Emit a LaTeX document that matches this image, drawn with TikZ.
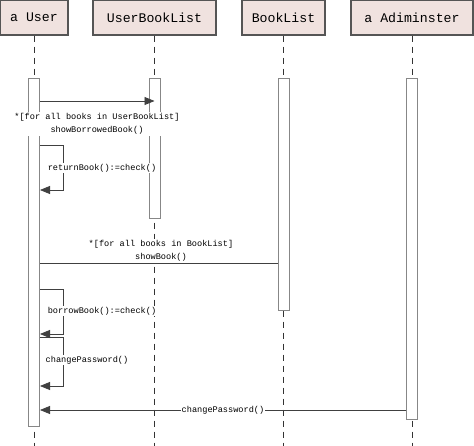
\documentclass[tikz,border=0pt]{standalone}
\usepackage{fontspec}
\setmonofont{Liberation Mono}
\usetikzlibrary{arrows.meta}
\definecolor{headfill}{RGB}{240,226,223}
\definecolor{headline}{RGB}{85,85,85}
\definecolor{actline}{RGB}{135,135,135}
\tikzset{
    head/.style={draw=headline, line width=1.2pt, fill=headfill, minimum height=35pt, inner sep=0pt, font=\ttfamily\fontsize{13.2}{14}\selectfont},
    life/.style={draw=black!80, line width=0.9pt, dash pattern=on 6pt off 5pt},
    act/.style={draw=actline, line width=1pt, fill=white, minimum width=11pt, inner sep=0pt},
    msg/.style={draw=black!75, line width=0.8pt, -{Triangle[length=10pt,width=8pt]}},
    plain/.style={draw=black!75, line width=0.8pt},
    lbl/.style={fill=white, inner sep=1pt, align=center, font=\ttfamily\fontsize{8.6}{13}\selectfont}
}
\begin{document}
\begin{tikzpicture}[x=1pt,y=-1pt]
        \useasboundingbox (0,0) rectangle (474,446);
        \coordinate (bottom) at (0,446);

        \node[head, minimum width=68pt] (user) at (34, 17.5) {a User};
        \node[head, minimum width=123pt] (ubl) at (154.5, 17.5) {UserBookList};
        \node[head, minimum width=83pt] (bl) at (283.5, 17.5) {BookList};
        \node[head, minimum width=122pt] (adm) at (412, 17.5) {a Adiminster};

        \draw[life] (user.south) -- (user.south |- bottom);
        \draw[life] (ubl.south) -- (ubl.south |- bottom);
        \draw[life] (bl.south) -- (bl.south |- bottom);
        \draw[life] (adm.south) -- (adm.south |- bottom);

        \node[act, minimum height=347pt] (actU) at (34, 252.5) {};
        \node[act, minimum height=140pt] (actUBL) at (154.5, 149) {};
        \node[act, minimum height=232pt] (actBL) at (283.5, 195) {};
        \node[act, minimum height=340pt] (actAdm) at (412, 249) {};

        \draw[msg] (actU.east |- 0,101) -- (actUBL.center |- 0,101);
        \node[lbl] (loopUBL) at (97, 124) {*[for all books in UserBookList]\\showBorrowedBook()};

        \draw[msg] (actU.east |- 0,145) -- (63,145) -- (63,190) -- (actU.east |- 0,190);
        \node[lbl] (ret) at (102, 168) {returnBook():=check()};

        \draw[plain] (actBL.west |- 0,263) -- (actU.east |- 0,263);
        \node[lbl] (loopBL) at (161, 250.5) {*[for all books in BookList]\\showBook()};

        \draw[msg] (actU.east |- 0,289) -- (63,289) -- (63,334) -- (actU.east |- 0,334);
        \node[lbl] (borrow) at (102, 311) {borrowBook():=check()};

        \draw[msg] (actU.east |- 0,337) -- (63,337) -- (63,386) -- (actU.east |- 0,386);
        \node[lbl] (chpw) at (87, 360) {changePassword()};

        \draw[msg] (actAdm.west |- 0,410) -- (actU.east |- 0,410) node[lbl, pos=0.5] (chpwAdm) {changePassword()};

    \end{tikzpicture}
\end{document}
